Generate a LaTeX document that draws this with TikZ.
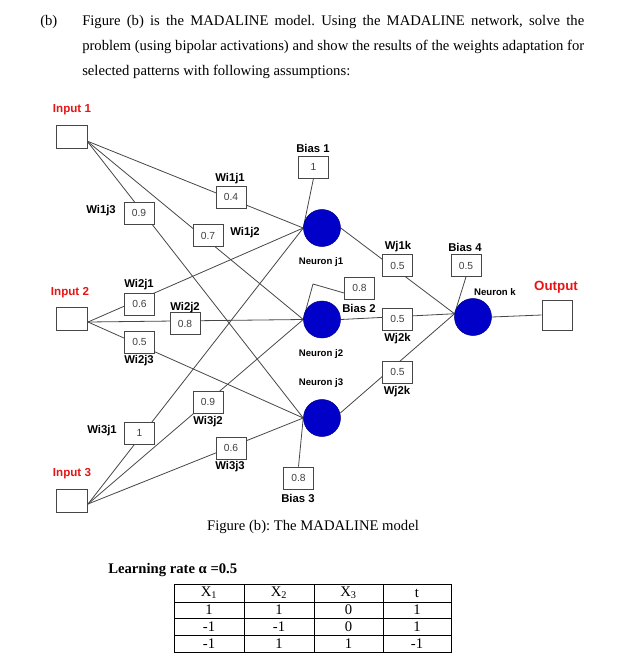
\documentclass[tikz,border=0pt]{standalone}
\usepackage{fontspec}
\setmainfont{Liberation Serif}
\setsansfont{Liberation Sans}
\usetikzlibrary{backgrounds}
\definecolor{linegray}{RGB}{70,70,70}
\definecolor{neuronblue}{RGB}{0,0,200}
\definecolor{labelred}{RGB}{230,20,20}
\frenchspacing
\begin{document}
\begin{tikzpicture}[x=0.75pt,y=-0.75pt,
  conn/.style={draw=linegray, line width=0.6pt},
  wbox/.style={draw=linegray, line width=0.6pt, fill=white, minimum width=22.5pt, minimum height=16.5pt, inner sep=0pt, font=\sffamily\fontsize{7.7}{9}\selectfont, text=black!75},
  wlabel/.style={font=\sffamily\bfseries\fontsize{8.5}{10}\selectfont, inner sep=0pt},
  nlabel/.style={font=\sffamily\bfseries\fontsize{7.2}{9}\selectfont, inner sep=0pt},
  iolabel/.style={font=\sffamily\bfseries\fontsize{8.7}{10}\selectfont, text=labelred, inner sep=0pt},
  iobox/.style={draw=linegray, line width=0.75pt, fill=white, minimum width=23.25pt, minimum height=17.25pt, inner sep=0pt},
  neuron/.style={circle, fill=neuronblue, draw=neuronblue!70!black, line width=0.4pt, minimum size=27.75pt, inner sep=0pt},
  body/.style={font=\fontsize{11}{18.75}\selectfont, inner sep=0pt},
  cell/.style={font=\fontsize{11}{13}\selectfont, inner sep=0pt}
]
\useasboundingbox (0,0) rectangle (639,657);

% header text
\node[body, anchor=north west] (blab) at (40,15) {(b)};
\node[body, anchor=north west, text width=376.5pt, align=justify] (para) at (82,15) {Figure (b) is the MADALINE model. Using the MADALINE network, solve the\linebreak problem (using bipolar activations) and show the results of the weights adaptation for\linebreak selected patterns with following assumptions:};

% inputs
\node[iobox] (in1) at (71.5,136.5) {};
\node[iobox] (in2) at (71.5,319) {};
\node[iobox] (in3) at (71.5,500.5) {};
\node[iolabel] (in1l) at (72,110) {Input 1};
\node[iolabel] (in2l) at (70,293) {Input 2};
\node[iolabel] (in3l) at (72,474) {Input 3};
\coordinate (o1) at (87,141);
\coordinate (o2) at (88,322);
\coordinate (o3) at (88,504);

% neurons
\node[neuron] (j1) at (322,228) {};
\node[neuron] (j2) at (322,319.5) {};
\node[neuron] (j3) at (322,418) {};
\node[neuron] (k) at (473,317) {};
\node[nlabel] (j1l) at (321,262) {Neuron j1};
\node[nlabel] (j2l) at (321,354) {Neuron j2};
\node[nlabel] (j3l) at (321,383) {Neuron j3};
\node[nlabel] (kl) at (495,292) {Neuron k};

% output
\node[iobox, minimum width=22.5pt, minimum height=22.5pt] (out) at (557,315) {};
\node[iolabel, font=\sffamily\bfseries\fontsize{10}{12}\selectfont] (outl) at (556,287) {Output};

% biases
\node[wbox] (b1) at (313.5,167) {1};
\node[wbox] (b2) at (359.5,288) {0.8};
\node[wbox] (b3) at (298.5,478) {0.8};
\node[wbox] (b4) at (466,265.5) {0.5};
\node[wlabel] (b1l) at (313,148) {Bias 1};
\node[wlabel] (b2l) at (359,308) {Bias 2};
\node[wlabel] (b3l) at (298,498) {Bias 3};
\node[wlabel] (b4l) at (465,247) {Bias 4};
\coordinate (b2c) at (313,284);

% input-to-hidden weights
\node[wbox] (w11) at (231,197) {0.4};
\node[wbox] (w12) at (208,235.5) {0.7};
\node[wbox] (w13) at (139,213) {0.9};
\node[wbox] (w21) at (139.5,304) {0.6};
\node[wbox] (w22) at (185,323.5) {0.8};
\node[wbox] (w23) at (139.5,342) {0.5};
\node[wbox] (w31) at (139.5,433) {1};
\node[wbox] (w32) at (208,402) {0.9};
\node[wbox] (w33) at (231,448) {0.6};
\node[wlabel] (w11l) at (230,179) {Wi1j1};
\node[wlabel] (w12l) at (245,233) {Wi1j2};
\node[wlabel] (w13l) at (101,211) {Wi1j3};
\node[wlabel] (w21l) at (139,285) {Wi2j1};
\node[wlabel] (w22l) at (185,308) {Wi2j2};
\node[wlabel] (w23l) at (139,361) {Wi2j3};
\node[wlabel] (w31l) at (102,431) {Wi3j1};
\node[wlabel] (w32l) at (208,422) {Wi3j2};
\node[wlabel] (w33l) at (230,467) {Wi3j3};

% hidden-to-output weights
\node[wbox] (v1) at (397.5,265.5) {0.5};
\node[wbox] (v2) at (397.5,319) {0.5};
\node[wbox] (v3) at (397.5,372) {0.5};
\node[wlabel] (v1l) at (398,247) {Wj1k};
\node[wlabel] (v2l) at (397.5,339) {Wj2k};
\node[wlabel] (v3l) at (397,392) {Wj2k};

% connectors
\begin{scope}[on background layer]
  \foreach \o in {o1,o2,o3} {
    \draw[conn] (\o) -- (j1.west);
    \draw[conn] (\o) -- (j2.west);
    \draw[conn] (\o) -- (j3.west);
  }
  \draw[conn] (b1.south) -- (j1.west);
  \draw[conn] ([yshift=-3.75pt]b2.west) -- (b2c) -- (j2.west);
  \draw[conn] (b3.north) -- (j3.west);
  \draw[conn] (b4.south) -- (k.170);
  \draw[conn] (j1.east) -- (k.170);
  \draw[conn] (j2.east) -- (k.170);
  \draw[conn] (j3.15) -- (k.170);
  \draw[conn] (k.east) -- (out.west);
\end{scope}

% caption
\node[cell] (cap) at (313,527) {Figure (b): The MADALINE model};
\node[cell, anchor=west, font=\bfseries\fontsize{11}{13}\selectfont] (lr) at (108,570) {Learning rate α =0.5};

% table
\draw[line width=0.75pt] (174,584) rectangle (451,652);
\draw[line width=0.75pt] (244,584) -- (244,652) (314,584) -- (314,652) (383,584) -- (383,652);
\draw[line width=0.75pt] (174,602) -- (451,602) (174,618) -- (451,618) (174,635) -- (451,635);
\node[cell] (h1) at (209,593) {X\textsubscript{1}};
\node[cell] (h2) at (279,593) {X\textsubscript{2}};
\node[cell] (h3) at (348.5,593) {X\textsubscript{3}};
\node[cell] (h4) at (417,593) {t};
\node[cell] (r11) at (209,610) {1};
\node[cell] (r12) at (279,610) {1};
\node[cell] (r13) at (348.5,610) {0};
\node[cell] (r14) at (417,610) {1};
\node[cell] (r21) at (209,626.5) {-1};
\node[cell] (r22) at (279,626.5) {-1};
\node[cell] (r23) at (348.5,626.5) {0};
\node[cell] (r24) at (417,626.5) {1};
\node[cell] (r31) at (209,643.5) {-1};
\node[cell] (r32) at (279,643.5) {1};
\node[cell] (r33) at (348.5,643.5) {1};
\node[cell] (r34) at (417,643.5) {-1};
\end{tikzpicture}
\end{document}
